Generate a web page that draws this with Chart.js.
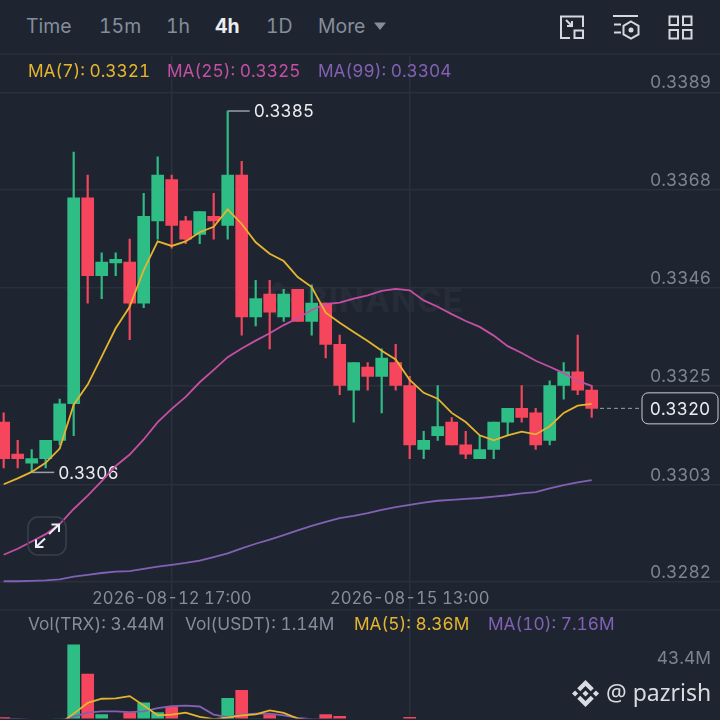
<!DOCTYPE html>
<html>
<head>
<meta charset="utf-8">
<title>TRX 4h</title>
<script src="https://cdn.jsdelivr.net/npm/chart.js@4"></script>
<style>
  html, body { margin: 0; padding: 0; background: #1f2530; }
  #wrap { position: relative; width: 720px; height: 720px; overflow: hidden; background: #1f2530; font-family: Inter, sans-serif; font-variant-numeric: tabular-nums; }
  #wrap span { position: absolute; white-space: nowrap; line-height: 1; }
  canvas { position: absolute; left: 0; }
  #priceChart { top: 54px; }
  #volChart { top: 610px; }
  .rule { position: absolute; left: 0; width: 720px; height: 2px; background: #272d37; }
  .tab { top: 17px; font-size: 19.4px; color: #848e9c; }
  .leg { font-size: 17.3px; }
  .gray { color: #848e9c; }
  .yellow { color: #e5b52f; }
  .pink { color: #c44fa4; }
  .purple { color: #8261b5; }
  svg { position: absolute; }
</style>
</head>
<body>
<div id="wrap">
  <!-- watermark sits under the chart -->
  <svg style="left:259px;top:281px" width="38" height="38" viewBox="0 0 126.61 126.61"><path fill="#272d38" d="M38.73 53.2l24.59-24.58 24.6 24.6 14.3-14.31L63.32 0 24.42 38.9l14.31 14.3zM0 63.31l14.3-14.31 14.31 14.31-14.31 14.3zM38.73 73.41l24.59 24.59 24.6-24.6 14.31 14.29-38.9 38.91-38.91-38.88-.02-.02zM98 63.31l14.3-14.31 14.31 14.3-14.31 14.32zM77.83 63.3l-14.51-14.52-10.73 10.73-1.24 1.23-2.54 2.54 14.51 14.5 14.51-14.51z"/></svg>
  <span style="left:306px;top:284px;font-size:33px;font-weight:700;color:#272d38;letter-spacing:1px">BINANCE</span>

  <canvas id="priceChart" width="720" height="556"></canvas>
  <canvas id="volChart" width="720" height="110"></canvas>

  <div class="rule" style="top:53px"></div>
  <div class="rule" style="top:609px"></div>

  <span class="tab" style="left:26px">Time</span>
  <span class="tab" style="left:99px">15m</span>
  <span class="tab" style="left:166px">1h</span>
  <span class="tab" style="left:215px;color:#eaecef;font-weight:700">4h</span>
  <span class="tab" style="left:266px">1D</span>
  <span class="tab" style="left:318px">More</span>
  <svg style="left:373px;top:22px" width="14" height="9"><path d="M1 0.5h12L7 8z" fill="#848e9c"/></svg>

  <svg style="left:555px;top:10px" width="145" height="34" fill="none" stroke="#d5d8dc" stroke-width="2">
    <path d="M15 28H6V6.5H28V17"/>
    <rect x="19.5" y="20.5" width="8.5" height="7.5"/>
    <path d="M11 10l6 6M17 11v5h-5"/>
    <path d="M58 6h25M59 14.5h7M59 22.5h7"/>
    <path d="M76 11.5l7.5 4.3v8.6L76 28.7l-7.5-4.3v-8.6z"/>
    <circle cx="76" cy="20" r="1.5" fill="#d5d8dc"/>
    <rect x="114.5" y="6.5" width="8.5" height="8.5"/>
    <rect x="128" y="6.5" width="8.5" height="8.5"/>
    <rect x="114.5" y="20" width="8.5" height="8.5"/>
    <rect x="128" y="20" width="8.5" height="8.5"/>
  </svg>

  <span class="leg yellow" style="left:28px;top:62px">MA(7): 0.3321</span>
  <span class="leg pink" style="left:167px;top:62px">MA(25): 0.3325</span>
  <span class="leg purple" style="left:318px;top:62px">MA(99): 0.3304</span>

  <span class="leg gray" style="left:28px;top:615px">Vol(TRX): 3.44M</span>
  <span class="leg gray" style="left:185px;top:615px">Vol(USDT): 1.14M</span>
  <span class="leg yellow" style="left:354px;top:615px">MA(5): 8.36M</span>
  <span class="leg purple" style="left:488px;top:615px">MA(10): 7.16M</span>

  <!-- expand button -->
  <svg style="left:27px;top:516px" width="40" height="40" fill="none">
    <rect x="1" y="1" width="38" height="38" rx="10" stroke="#3a404b" stroke-width="1.5"/>
    <path d="M9 31l9-8.500M22 18l10-9.500M9 23.500v7.500h7.500M24.500 8.500h7.500v7.500" stroke="#eaecef" stroke-width="2"/>
  </svg>

  <svg style="left:572px;top:680px" width="27" height="27" viewBox="0 0 126.61 126.61"><path fill="#d8dbdf" d="M38.73 53.2l24.59-24.58 24.6 24.6 14.3-14.31L63.32 0 24.42 38.9l14.31 14.3zM0 63.31l14.3-14.31 14.31 14.31-14.31 14.3zM38.73 73.41l24.59 24.59 24.6-24.6 14.31 14.29-38.9 38.91-38.91-38.88-.02-.02zM98 63.31l14.3-14.31 14.31 14.3-14.31 14.32zM77.83 63.3l-14.51-14.52-10.73 10.73-1.24 1.23-2.54 2.54 14.51 14.5 14.51-14.51z"/></svg>
  <span style="left:606px;top:681px;font-size:23px;color:#d8dbdf;font-family:'Noto Sans',sans-serif">@ pazrish</span>
</div>

<script>
// candles, tick size 0.0001
const opens  = [0.3317,0.3310,0.3308,0.3309,0.3313,0.3321,0.3366,0.3349,0.33518,0.3352,0.3343,0.3361,0.3370,0.3361,0.3358,0.3362,0.3360,0.3371,0.3340,0.3345,0.3340,0.3346,0.3339,0.3343,0.3334,0.3324,0.3329,0.3327,0.3330,0.3325,0.3311,0.3314,0.3317,0.3312,0.3309,0.3311,0.3317,0.3320,0.3319,0.3313,0.3325,0.3328,0.3324];
const highs  = [0.3319,0.3313,0.3311,0.3313,0.3322,0.3376,0.3371,0.3354,0.3354,0.3357,0.3367,0.3375,0.3371,0.3362,0.3363,0.3367,0.3385,0.3374,0.3348,0.3348,0.3346,0.3346,0.3347,0.3343,0.3336,0.3330,0.3330,0.3333,0.3334,0.3327,0.3315,0.3325,0.3318,0.3315,0.3314,0.3317,0.3320,0.3325,0.3320,0.3326,0.3330,0.3336,0.3325];
const lows   = [0.3307,0.3307,0.3306,0.3307,0.3312,0.3314,0.3343,0.3344,0.3349,0.3335,0.3342,0.3357,0.3355,0.3356,0.3356,0.3357,0.3357,0.3336,0.3338,0.3333,0.3339,0.3339,0.3336,0.3331,0.3323,0.3317,0.3324,0.3319,0.3324,0.3309,0.3309,0.3313,0.3312,0.3309,0.3309,0.3309,0.3314,0.3317,0.3311,0.3312,0.3322,0.3323,0.3318];
const closes = [0.3309,0.3309,0.3309,0.3313,0.3321,0.3366,0.3349,0.3352,0.33526,0.3343,0.3362,0.3371,0.3360,0.3357,0.3363,0.3361,0.3371,0.3340,0.3344,0.3341,0.3345,0.3339,0.3343,0.3334,0.3325,0.3330,0.3327,0.3331,0.3325,0.3312,0.3313,0.3316,0.3312,0.3310,0.3311,0.3317,0.3320,0.3318,0.3312,0.3325,0.3328,0.3324,0.3320];

const ma7  = [0.33034,0.33047,0.33061,0.33081,0.33112,0.33208,0.33252,0.33313,0.33375,0.33422,0.33502,0.33565,0.33555,0.33565,0.33585,0.33597,0.33635,0.33603,0.33563,0.33538,0.33522,0.33487,0.33465,0.33409,0.33387,0.33367,0.33347,0.33326,0.33307,0.33262,0.33234,0.33221,0.33190,0.33170,0.33141,0.33130,0.33141,0.33149,0.33143,0.33161,0.33190,0.33206,0.33210];
const ma25 = [0.32880,0.32893,0.32909,0.32925,0.32947,0.32980,0.33009,0.33041,0.33074,0.33099,0.33132,0.33170,0.33199,0.33225,0.33257,0.33284,0.33312,0.33331,0.33348,0.33364,0.33382,0.33397,0.33415,0.33428,0.33431,0.33440,0.33447,0.33457,0.33461,0.33458,0.33436,0.33422,0.33406,0.33391,0.33378,0.33359,0.33336,0.33321,0.33304,0.33291,0.33277,0.33260,0.33249];
const ma99 = [0.32822,0.32822,0.32823,0.32824,0.32826,0.32832,0.32836,0.32840,0.32843,0.32844,0.32849,0.32854,0.32858,0.32862,0.32867,0.32875,0.32883,0.32894,0.32904,0.32913,0.32923,0.32933,0.32943,0.32952,0.32960,0.32965,0.32971,0.32978,0.32984,0.32989,0.32994,0.32998,0.33000,0.33002,0.33004,0.33007,0.33010,0.33014,0.33017,0.33025,0.33032,0.33038,0.33043];

// volume in millions, only the tops show above the crop
const volumes = [10.1,5,5,4,9,57.0,38.2,12,6,13.2,19.5,13.2,17,8,7,6,22.5,27.7,9,12,8,7,8,12,10.8,7,4,5,6,10.2,4,5,4,3,3,5,3,3,6,7,4,6,3.44];
const volMa5  = [8,8,7,6,6,12.6,19.5,22.2,22.5,23.9,17.8,11.5,12,13.2,10.5,9,10,11.5,12.1,14.7,13,9.4,8,8,8.5,8,7,6.5,6,6,6,6,5.5,5,4.5,4.5,4,4,5,6,8,8.2,8.36];
const volMa10 = [9,9,8.5,8,8,10.7,13.2,14,14,13.6,14,16.2,17.4,17.8,17.2,12,10.3,12,12.6,12.6,11.5,9.9,9,8.8,8.6,8.4,8,7.8,7.5,7.4,7.2,7,6.6,6.2,6,5.8,5.6,5.5,5.6,6,6.6,7,7.16];

const priceTicks = [0.33891,0.33677,0.33463,0.33249,0.33034,0.32821];
const volTicks = [43.4];
const timeTickIdx = [12, 29];
const timeTickLabels = ["2026-08-12 17:00", "2026-08-15 13:00"];
const lastPrice = 0.3320;

const UP = "#2ebd85", DOWN = "#f6465d";
const GRID = "#2b313b";
const candleColors = opens.map((o, i) => closes[i] >= o ? UP : DOWN);
const xy = arr => arr.map((v, i) => ({ x: i, y: v }));
const maLine = (arr, color) => ({ type: "line", data: xy(arr), borderColor: color, borderWidth: 1.8, pointRadius: 0, tension: 0, order: 1 });

// x range so candles land every 14px
const xScale = {
    type: "linear",
    offset: false,
    min: -0.264,
    max: 51.164,
    grid: { color: GRID, lineWidth: 1.5, drawTicks: false, offset: false },
    border: { display: false },
    afterFit(s) { s.height = 0; },
    afterBuildTicks(s) { s.ticks = timeTickIdx.map(v => ({ value: v })); }
};

const annotations = {
    id: "annotations",
    beforeDatasetsDraw(chart) {
        const { ctx, scales: { x, y } } = chart;
        const hi = Math.max(...highs), lo = Math.min(...lows);
        ctx.save();
        ctx.font = "17.2px Inter";
        ctx.textBaseline = "middle";
        ctx.textAlign = "left";
        [[highs.indexOf(hi), hi, 22], [lows.indexOf(lo), lo, 22.500]].forEach(([i, v, len]) => {
            const px = x.getPixelForValue(i), py = y.getPixelForValue(v);
            ctx.strokeStyle = "#9aa0a8";
            ctx.lineWidth = 1.5;
            ctx.beginPath();
            ctx.moveTo(px, py);
            ctx.lineTo(px + len, py);
            ctx.stroke();
            ctx.fillStyle = "#eaecef";
            ctx.fillText(v.toFixed(4), px + len + 4, py + 1);
        });
        ctx.restore();
    },
    afterDatasetsDraw(chart) {
        const { ctx, scales: { y } } = chart;
        const py = y.getPixelForValue(lastPrice);
        ctx.save();
        ctx.strokeStyle = "#9aa0a8";
        ctx.lineWidth = 1;
        ctx.setLineDash([4, 3]);
        ctx.beginPath();
        ctx.moveTo(600, py);
        ctx.lineTo(642, py);
        ctx.stroke();
        ctx.setLineDash([]);
        ctx.beginPath();
        ctx.roundRect(642, py - 15.5, 76, 31, 6);
        ctx.fillStyle = "#1f2530";
        ctx.fill();
        ctx.strokeStyle = "#c8ccd2";
        ctx.stroke();
        ctx.fillStyle = "#eaecef";
        ctx.font = "17.2px Inter";
        ctx.textAlign = "center";
        ctx.textBaseline = "middle";
        ctx.fillText(lastPrice.toFixed(4), 680, py + 1);
        ctx.restore();
    }
};

new Chart(document.getElementById("priceChart"), {
    type: "bar",
    plugins: [annotations],
    data: {
        datasets: [
            maLine(ma7, "#e5b52f"),
            maLine(ma25, "#c44fa4"),
            maLine(ma99, "#8261b5"),
            {
                data: opens.map((o, i) => ({ x: i, y: [o, closes[i]] })),
                backgroundColor: candleColors,
                barThickness: 12,
                grouped: false,
                order: 2
            },
            {
                data: lows.map((l, i) => ({ x: i, y: [l, highs[i]] })),
                backgroundColor: candleColors,
                barThickness: 1.5,
                grouped: false,
                order: 3
            }
        ]
    },
    options: {
        responsive: false,
        animation: false,
        events: [],
        layout: { padding: 0 },
        plugins: { legend: { display: false }, tooltip: { enabled: false } },
        scales: {
            x: {
                ...xScale,
                ticks: {
                    // mirror keeps the labels from being clipped to the zero height axis
                    mirror: true,
                    color: "#848e9c",
                    font: { family: "Inter", size: 16.6 },
                    padding: 0,
                    maxRotation: 0,
                    autoSkip: false,
                    callback: (v, i) => timeTickLabels[i]
                }
            },
            y: {
                position: "right",
                min: 0.327623,
                max: 0.339715,
                grid: { color: GRID, lineWidth: 1.5, drawTicks: false },
                border: { display: false },
                afterFit(s) { s.width = 0; },
                afterBuildTicks(s) { s.ticks = priceTicks.map(v => ({ value: v })); },
                ticks: {
                    mirror: true,
                    padding: -9,
                    labelOffset: -9,
                    color: "#7c848f",
                    font: { family: "Inter", size: 17.4 },
                    callback: v => v.toFixed(4)
                }
            }
        }
    }
});

new Chart(document.getElementById("volChart"), {
    type: "bar",
    data: {
        datasets: [
            maLine(volMa5, "#e5b52f"),
            maLine(volMa10, "#8261b5"),
            {
                data: xy(volumes),
                backgroundColor: candleColors,
                barThickness: 12,
                grouped: false,
                order: 2
            }
        ]
    },
    options: {
        responsive: false,
        animation: false,
        events: [],
        layout: { padding: 0 },
        plugins: { legend: { display: false }, tooltip: { enabled: false } },
        scales: {
            x: { ...xScale, ticks: { display: false } },
            y: {
                position: "right",
                min: 9.4,
                max: 78.6,
                grid: { display: false },
                border: { display: false },
                afterFit(s) { s.width = 0; },
                afterBuildTicks(s) { s.ticks = volTicks.map(v => ({ value: v })); },
                ticks: {
                    mirror: true,
                    padding: -9,
                    labelOffset: -7,
                    color: "#7c848f",
                    font: { family: "Inter", size: 17.4 },
                    callback: v => v.toFixed(1) + "M"
                }
            }
        }
    }
});
</script>
</body>
</html>
